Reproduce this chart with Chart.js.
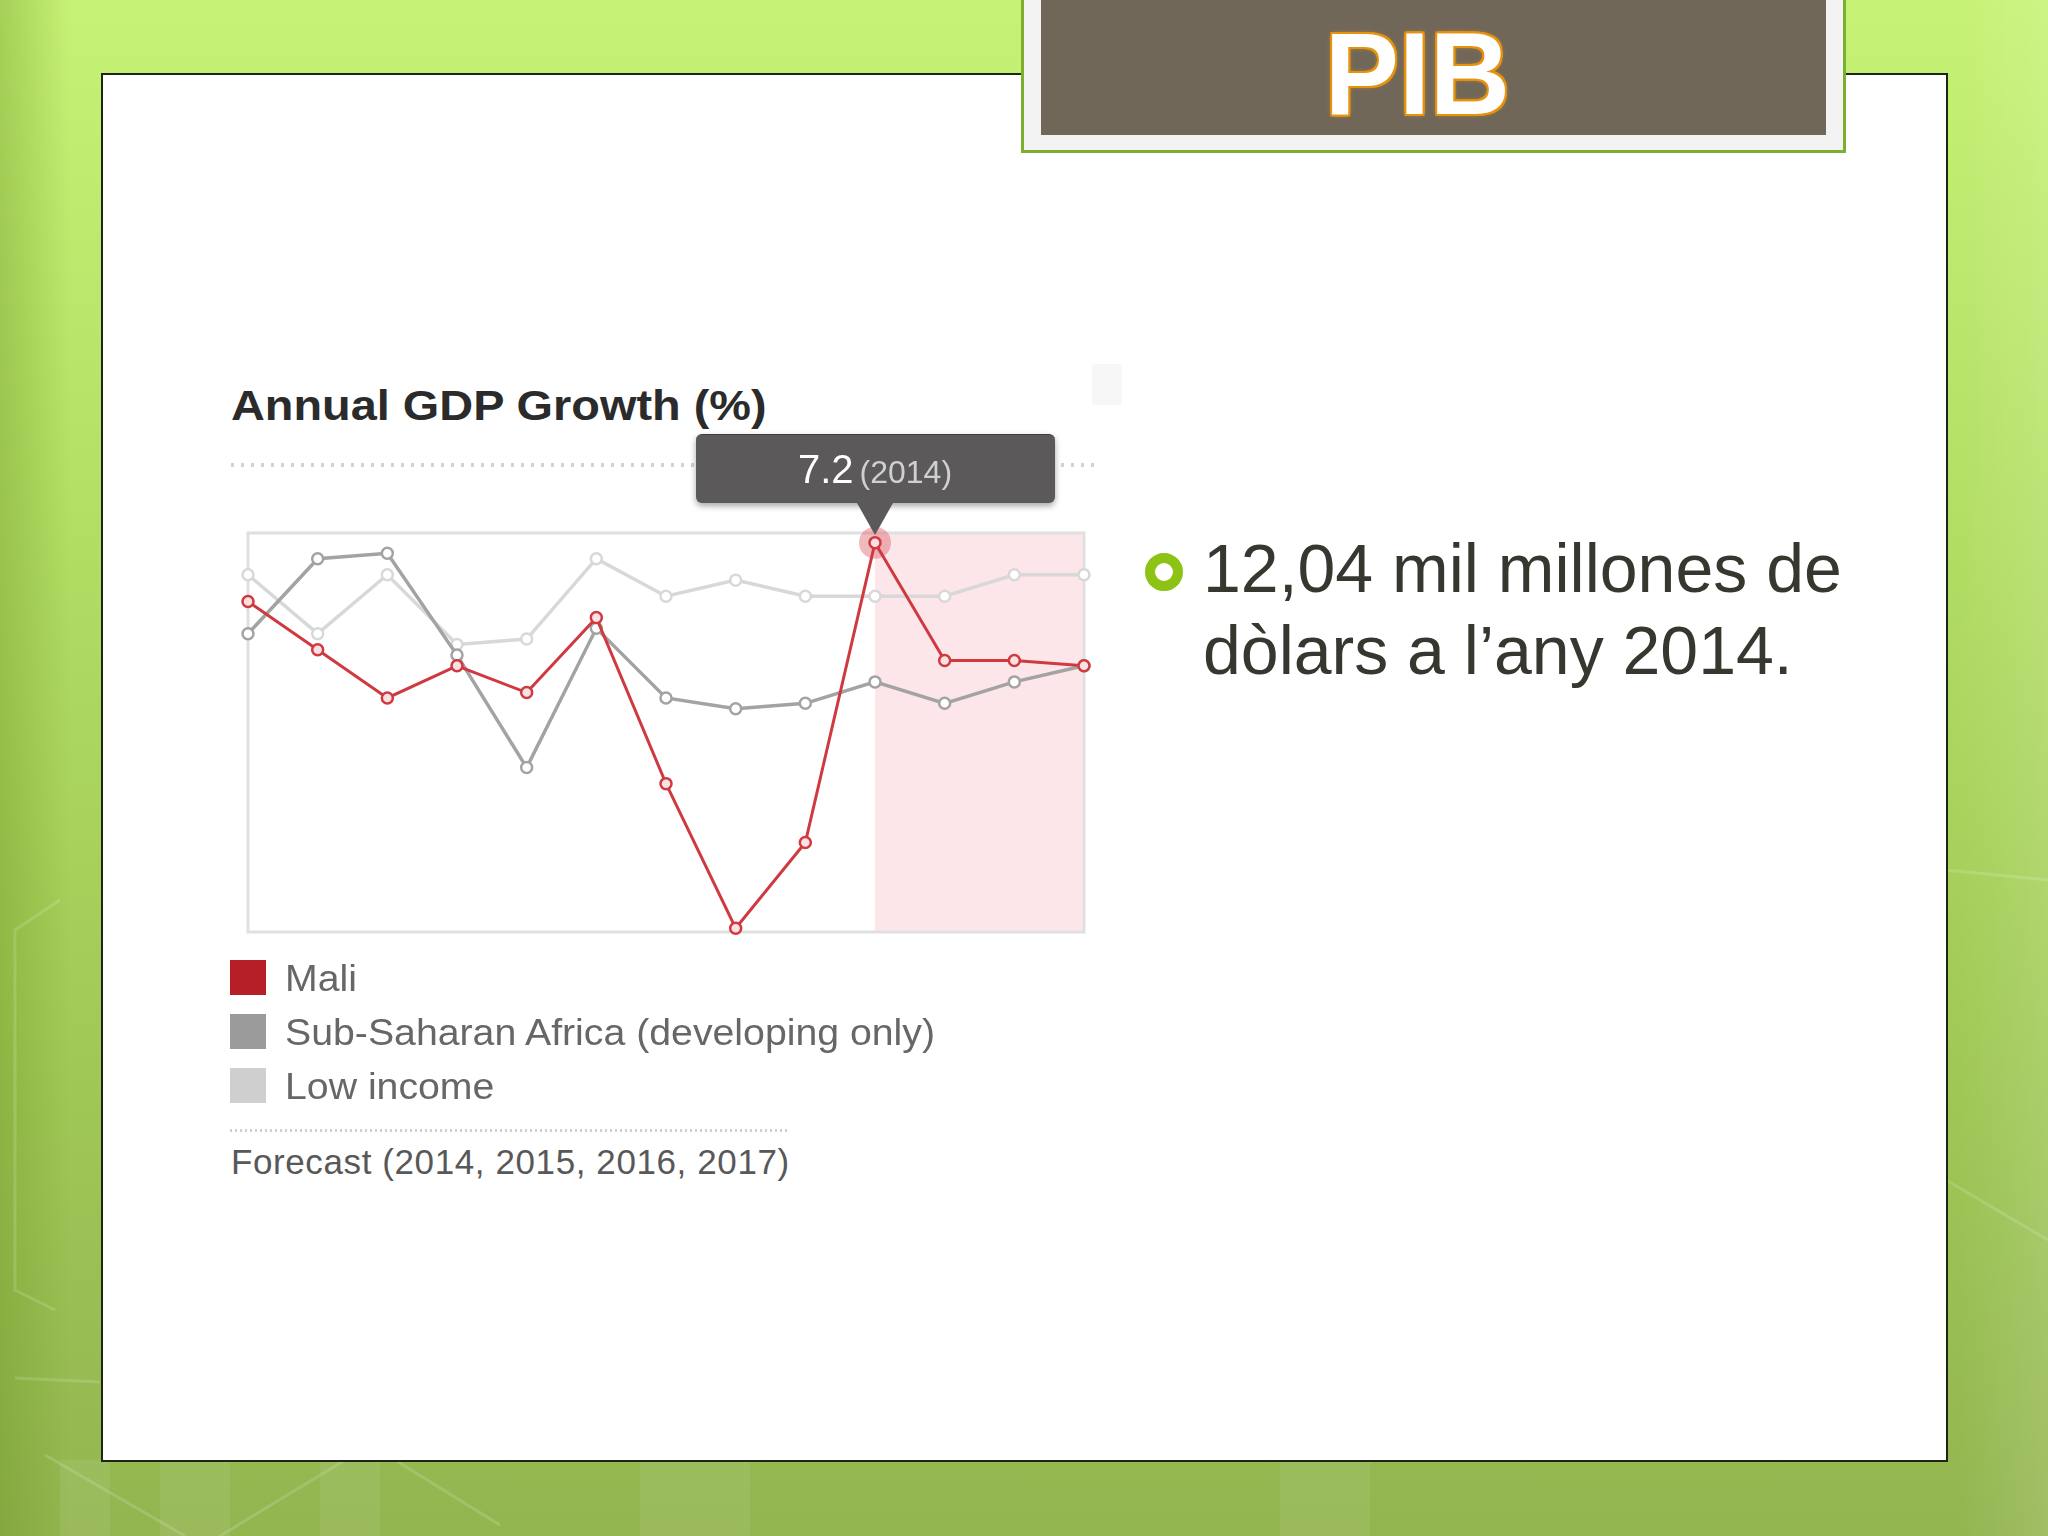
<!DOCTYPE html>
<html>
<head>
<meta charset="utf-8">
<script src="https://cdn.jsdelivr.net/npm/chart.js@4.4.1/dist/chart.umd.min.js"></script>
<style>
  html, body { margin: 0; padding: 0; }
  body {
    width: 2048px; height: 1536px; position: relative; overflow: hidden;
    font-family: "Liberation Sans", Arial, sans-serif;
    background:
      linear-gradient(90deg, rgba(105,145,30,0.35) 0px, rgba(105,145,30,0) 70px),
      linear-gradient(270deg, rgba(255,255,255,0.12) 0px, rgba(255,255,255,0) 90px),
      linear-gradient(180deg, #c6f276 0%, #b5e166 30%, #a3cd58 62%, #93b550 100%);
  }
  .deco { position: absolute; left: 0; top: 0; }
  .panel {
    position: absolute; left: 101px; top: 73px; width: 1843px; height: 1385px;
    background: #fff; border: 2px solid #1e2416;
  }
  .pib-box {
    position: absolute; left: 1021px; top: -6px; width: 825px; height: 159px;
    background: #f3f3f4; border: 3px solid #7dae2e; box-sizing: border-box;
  }
  .pib-inner {
    position: absolute; left: 17px; top: 0; right: 17px; height: 138px;
    background: #716759;
  }
  .pib-inner span {
    position: absolute; left: -32px; right: 0; top: 18px; text-align: center;
    font-size: 117px; font-weight: bold; color: #fff; line-height: 1;
    transform: scaleX(0.95);
    text-shadow: 2px 0 0 #e8930c, -2px 0 0 #e8930c, 0 2px 0 #e8930c, 0 -2px 0 #e8930c,
                 2px 2px 0 #e8930c, -2px -2px 0 #e8930c, 2px -2px 0 #e8930c, -2px 2px 0 #e8930c,
                 0 0 6px #f0a020;
  }
  .chart-title {
    position: absolute; left: 231px; top: 384px; font-size: 43px; font-weight: bold;
    color: #2b2b2b; line-height: 1; transform: scaleX(1.09); transform-origin: left top;
  }
  .dots-top {
    position: absolute; left: 231px; top: 463px; width: 870px; height: 4px;
    background-image: linear-gradient(to right, #d2d2d2 3px, transparent 3px);
    background-size: 10px 4px;
  }
  .ghost {
    position: absolute; left: 1092px; top: 364px; width: 30px; height: 41px;
    background: #f7f7f7; border-radius: 3px;
  }
  .chart-wrap { position: absolute; left: 218px; top: 503px; width: 896px; height: 459px; }
  #legend { position: absolute; left: 230px; top: 960px; }
  #legend .item {
    height: 54px; display: flex; align-items: flex-start;
    font-size: 36px; color: #676767; line-height: 1;
  }
  #legend .sw { width: 36px; height: 35px; margin-right: 19px; display: inline-block; flex: none; }
  #legend .txt { position: relative; top: 1px; display: inline-block; transform: scaleX(1.09); transform-origin: left top; }
  .dots-legend {
    position: absolute; left: 230px; top: 1129px; width: 560px; height: 3px;
    background-image: linear-gradient(to right, #cfcfcf 2px, transparent 2px);
    background-size: 5px 3px;
  }
  .forecast {
    position: absolute; left: 231px; top: 1144px; font-size: 35px; color: #585858;
    line-height: 1; letter-spacing: 0.6px;
  }
  .bullet {
    position: absolute; left: 1203px; top: 528px; font-size: 68px; line-height: 81.6px;
    color: #38372f;
  }
  .ring {
    position: absolute; left: 1145px; top: 553px; width: 38px; height: 38px;
    box-sizing: border-box; border: 10px solid #8cc314; border-radius: 50%;
  }
  #tip {
    position: absolute; display: none; width: 359px; height: 69px;
    background: #5b5959; border-radius: 6px; border-top: 1px solid #3e3d3d;
    box-shadow: 0 3px 6px rgba(0,0,0,0.35); box-sizing: border-box;
    text-align: center; line-height: 69px; color: #fff;
  }
  #tip::after {
    content: ""; position: absolute; left: 161px; top: 68px;
    border-left: 18px solid transparent; border-right: 18px solid transparent;
    border-top: 32px solid #5b5959;
  }
  #tip .v { font-size: 40px; }
  #tip .y { font-size: 32px; color: #d0d0d0; margin-left: 6px; }
</style>
</head>
<body>
<svg class="deco" width="2048" height="1536">
  <g stroke="rgba(255,255,255,0.15)" stroke-width="3" fill="none">
    <line x1="15" y1="1378" x2="100" y2="1382"/>
    <line x1="45" y1="1455" x2="185" y2="1536"/>
    <line x1="220" y1="1536" x2="345" y2="1460"/>
    <line x1="395" y1="1460" x2="500" y2="1525"/>
    <line x1="1946" y1="870" x2="2048" y2="880"/>
    <line x1="1946" y1="1180" x2="2048" y2="1240"/>
    <polyline points="60,900 15,930 15,1290 55,1310"/>
  </g>
  <g fill="rgba(255,255,255,0.07)">
    <rect x="60" y="1460" width="50" height="76"/>
    <rect x="160" y="1460" width="70" height="76"/>
    <rect x="320" y="1460" width="60" height="76"/>
    <rect x="640" y="1460" width="110" height="76"/>
    <rect x="1280" y="1460" width="90" height="76"/>
  </g>
</svg>
<div class="panel"></div>
<div class="pib-box"><div class="pib-inner"><span>PIB</span></div></div>
<div class="chart-title">Annual GDP Growth (%)</div>
<div class="dots-top"></div>
<div class="ghost"></div>
<div class="chart-wrap"><canvas id="gdpChart"></canvas></div>
<div id="legend"></div>
<div class="dots-legend"></div>
<div class="forecast">Forecast (2014, 2015, 2016, 2017)</div>
<div class="ring"></div>
<div class="bullet">12,04 mil millones de<br>dòlars a l’any 2014.</div>
<div id="tip"><span class="v"></span><span class="y"></span></div>

<script>
// Annual GDP growth (%)
const years = ['2005', '2006', '2007', '2008', '2009', '2010', '2011', '2012', '2013', '2014', '2015', '2016', '2017'];
const forecastYears = ['2014', '2015', '2016', '2017'];
const highlightYear = '2014';

const mali       = [6.1, 5.2, 4.3, 4.9, 4.4, 5.8, 2.7, 0.0, 1.6, 7.2, 5.0, 5.0, 4.9];
const subSaharan = [5.5, 6.9, 7.0, 5.1, 3.0, 5.6, 4.3, 4.1, 4.2, 4.6, 4.2, 4.6, 4.9];
const lowIncome  = [6.6, 5.5, 6.6, 5.3, 5.4, 6.9, 6.2, 6.5, 6.2, 6.2, 6.2, 6.6, 6.6];

const seriesNames = ['Mali', 'Sub-Saharan Africa (developing only)', 'Low income'];

// forecast band, plot frame and the hover halo
const framePlugin = {
    id: 'frame',
    beforeDatasetsDraw(chart) {
        const { ctx, chartArea: a, scales: { x } } = chart;
        const x0 = x.getPixelForValue(years.indexOf(forecastYears[0]));
        ctx.save();
        ctx.fillStyle = '#fde6e9';
        ctx.fillRect(x0, a.top, a.right - x0, a.bottom - a.top);
        ctx.strokeStyle = '#e0e0e0';
        ctx.lineWidth = 3;
        ctx.strokeRect(a.left, a.top, a.right - a.left, a.bottom - a.top);
        chart.tooltip.getActiveElements().forEach(({ element }) => {
            ctx.beginPath();
            ctx.arc(element.x, element.y, 16, 0, Math.PI * 2);
            ctx.fillStyle = 'rgba(222, 100, 110, 0.45)';
            ctx.fill();
        });
        ctx.restore();
    }
};

function renderTip(context) {
    const { chart, tooltip } = context;
    const tip = document.getElementById('tip');
    if (tooltip.opacity === 0 || !tooltip.dataPoints || !tooltip.dataPoints.length) {
        tip.style.display = 'none';
        return;
    }
    const dp = tooltip.dataPoints[0];
    tip.querySelector('.v').textContent = dp.formattedValue;
    tip.querySelector('.y').textContent = '(' + dp.label + ')';
    const r = chart.canvas.getBoundingClientRect();
    const cx = r.left + dp.element.x;
    const cy = r.top + dp.element.y;
    tip.style.display = 'block';
    tip.style.left = (cx - 179.5) + 'px';
    tip.style.top = (cy - 108.5) + 'px';
}

const ctx = document.getElementById('gdpChart').getContext('2d');

const gdpChart = new Chart(ctx, {
    type: 'line',
    data: {
        labels: years,
        datasets: [{
            label: seriesNames[0],
            data: mali,
            legendColor: '#b61f28',
            borderColor: '#cf3a41',
            borderWidth: 3,
            pointRadius: 5.5,
            pointBorderWidth: 2.5,
            pointBackgroundColor: '#fbe1e2',
            pointBorderColor: '#cf3a41'
        }, {
            label: seriesNames[1],
            data: subSaharan,
            legendColor: '#9b9b9b',
            borderColor: '#a3a3a3',
            borderWidth: 3.5,
            pointRadius: 5.5,
            pointBorderWidth: 2.5,
            pointBackgroundColor: '#ffffff',
            pointBorderColor: '#a3a3a3'
        }, {
            label: seriesNames[2],
            data: lowIncome,
            legendColor: '#cfcfcf',
            borderColor: '#d8d8d8',
            borderWidth: 3.5,
            pointRadius: 5.5,
            pointBorderWidth: 2.5,
            pointBackgroundColor: '#ffffff',
            pointBorderColor: '#d8d8d8'
        }]
    },
    options: {
        responsive: true,
        maintainAspectRatio: false,
        animation: false,
        events: [],
        clip: false,
        tension: 0,
        layout: {
            padding: 30
        },
        plugins: {
            legend: { display: false },
            tooltip: {
                enabled: false,
                animation: false,
                external: renderTip
            }
        },
        scales: {
            x: { display: false },
            y: {
                display: false,
                min: -0.07,
                max: 7.38
            }
        }
    },
    plugins: [framePlugin]
});

// html legend, one row per series
document.getElementById('legend').innerHTML = gdpChart.data.datasets.map(ds =>
    `<div class="item"><span class="sw" style="background:${ds.legendColor}"></span><span class="txt">${ds.label}</span></div>`
).join('');

// the reference shows the hover label on Mali 2014
gdpChart.tooltip.setActiveElements([{ datasetIndex: 0, index: years.indexOf(highlightYear) }], { x: 0, y: 0 });
gdpChart.draw();
</script>
</body>
</html>
